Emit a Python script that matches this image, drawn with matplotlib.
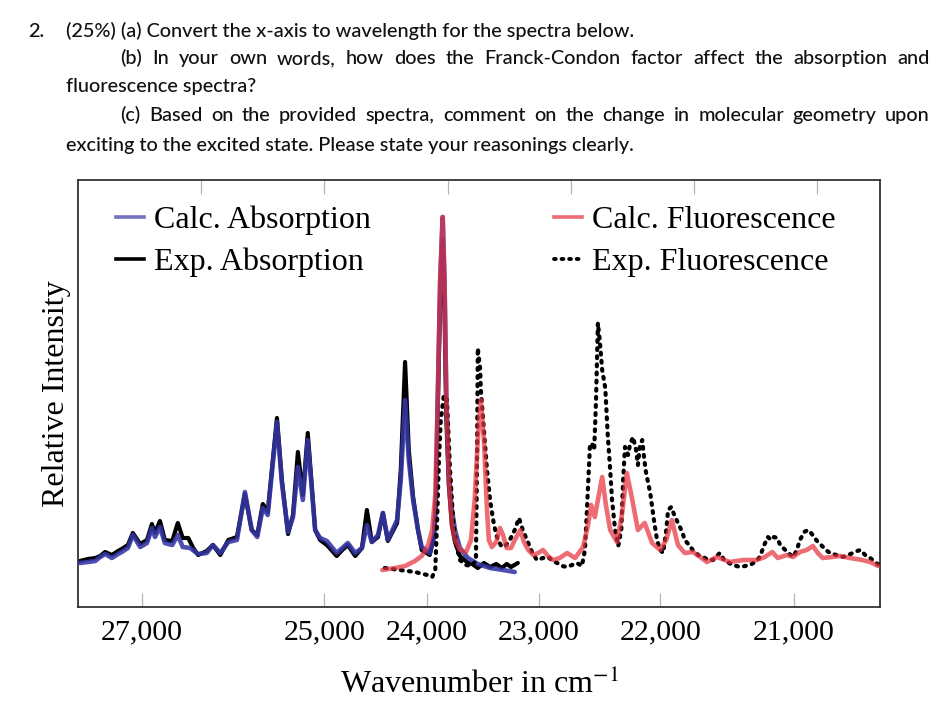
import matplotlib
matplotlib.use("Agg")
import matplotlib.pyplot as plt
from matplotlib.lines import Line2D

W, H = 950, 714

# ---------------- data (wavelength in nm, relative intensity in arb. units) -------------
calc_abs_nm = [360.3, 361.6, 362.8, 363.6, 364.4, 365.5, 366.5, 367.1, 368.1, 368.9, 370.1, 371.2,
               372.0, 372.5, 373.3, 374.1, 375.3, 376.2, 377.0, 378.2, 379.5, 380.9, 381.9, 383.1,
               384.4, 385.8, 387.1, 388.2, 389.1, 390.0, 390.8, 392.3, 393.1, 394.1, 394.9, 395.7,
               396.5, 397.3, 398.5, 399.3, 400.4, 402.0, 402.9, 403.8, 405.0, 406.1, 406.9, 407.7,
               408.7, 409.5, 410.3, 411.8, 412.4, 413.1, 413.7, 414.4, 415.2, 415.8, 417.1, 417.8,
               418.1, 418.4, 418.8, 419.2, 419.5, 419.8, 420.2, 420.6, 421.2, 422.0, 423.3, 424.9,
               426.9, 429.0, 430.9]
calc_abs_int = [7, 8, 9, 13, 16, 12, 16, 18, 22, 35, 23, 27,
                42, 33, 43, 27, 25, 35, 23, 22, 16, 17, 25, 17,
                28, 30, 78, 40, 33, 62, 55, 148, 87, 38, 53, 103,
                70, 130, 40, 32, 29, 17, 22, 27, 17, 22, 45, 28,
                35, 57, 30, 50, 90, 170, 110, 70, 40, 23, 17, 35,
                70, 170, 290, 353, 290, 170, 100, 65, 40, 22, 12, 6,
                2, 0, -2]

exp_abs_nm = [360.3, 361.6, 362.8, 363.6, 364.4, 365.5, 366.5, 367.1, 368.1, 368.9, 370.1, 371.2,
              372.0, 372.5, 373.3, 374.1, 375.3, 376.2, 377.0, 377.9, 378.7, 379.5, 380.9, 381.9,
              383.1, 384.4, 385.8, 387.1, 388.2, 389.1, 390.0, 390.8, 392.3, 393.1, 394.1, 394.9,
              395.7, 396.5, 397.3, 398.5, 399.3, 400.4, 402.0, 402.9, 403.8, 405.0, 406.1, 406.9,
              407.7, 408.7, 409.5, 410.3, 411.8, 412.4, 413.1, 413.7, 414.4, 415.2, 415.8, 417.1,
              417.8, 418.1, 418.4, 418.8, 419.2, 419.5, 419.8, 420.2, 420.7, 421.2, 422.0, 423.3,
              424.0, 424.9, 425.9, 426.9, 427.9, 428.8, 429.6, 430.3, 431.4]
exp_abs_int = [9, 11, 12, 14, 18, 15, 19, 21, 25, 37, 26, 30,
               46, 37, 49, 30, 29, 47, 32, 32, 22, 15, 19, 25,
               15, 30, 33, 76, 40, 35, 66, 58, 152, 90, 36, 55,
               118, 75, 137, 40, 30, 25, 14, 20, 25, 14, 22, 60,
               28, 33, 57, 29, 47, 100, 208, 120, 73, 40, 20, 15,
               33, 68, 160, 270, 330, 260, 150, 85, 45, 28, 14, 7,
               6, 2, 7, 3, 6, 2, 6, 3, 7]

calc_fl_nm = [409.4, 411.5, 413.1, 414.7, 415.8, 416.8, 417.5, 418.0, 418.4, 418.8, 419.2, 419.5,
              419.8, 420.2, 420.7, 421.2, 422.0, 423.0, 423.8, 424.4, 424.9, 425.4, 425.9, 426.4,
              426.7, 427.2, 427.9, 428.5, 429.0, 429.6, 430.3, 430.9, 431.8, 432.4, 433.1, 433.9,
              434.7, 435.5, 436.3, 437.1, 438.2, 439.4, 440.7, 442.0, 442.8, 443.3, 443.9, 444.4,
              445.1, 445.7, 446.4, 447.5, 448.3, 449.1, 449.9, 450.9, 452.0, 453.2, 454.5, 455.5,
              456.4, 457.4, 458.5, 459.8, 461.0, 462.1, 463.7, 465.8, 468.0, 470.2, 471.5, 472.7,
              473.6, 475.1, 476.1, 477.2, 478.3, 479.3, 480.1, 480.9, 482.4, 483.7, 485.3, 487.3,
              488.6, 489.9]
calc_fl_int = [0, 2, 4, 9, 14, 24, 40, 75, 170, 290, 353, 290,
               170, 90, 45, 30, 20, 18, 30, 70, 130, 170, 130, 60,
               30, 23, 28, 42, 35, 22, 22, 30, 40, 28, 20, 15,
               17, 20, 14, 10, 12, 17, 12, 23, 45, 65, 53, 70,
               93, 65, 40, 28, 55, 97, 73, 40, 47, 27, 20, 30,
               50, 25, 17, 18, 13, 8, 13, 8, 10, 10, 13, 18,
               12, 15, 13, 18, 20, 24, 17, 12, 13, 14, 12, 10,
               8, 4]

exp_fl_nm = [409.8, 412.3, 414.7, 416.7, 417.5, 418.0, 418.3, 418.6, 418.9, 419.4, 419.9, 420.4,
             420.9, 421.4, 422.0, 423.0, 424.0, 424.6, 424.8, 424.9, 425.3, 425.4, 425.9, 426.4,
             426.9, 427.4, 427.9, 428.2, 428.8, 429.5, 430.1, 430.9, 431.6, 432.2, 432.9, 433.7,
             434.5, 435.5, 436.3, 437.1, 437.8, 438.6, 439.4, 440.2, 441.0, 441.8, 442.3, 442.6,
             443.1, 443.4, 443.8, 444.1, 444.4, 444.7, 445.1, 445.6, 446.0, 446.4, 446.7, 447.2,
             447.7, 448.2, 448.5, 448.8, 449.3, 449.6, 450.1, 450.6, 450.9, 451.2, 451.6, 451.9,
             452.2, 452.9, 453.5, 454.0, 454.5, 455.0, 455.5, 455.8, 456.3, 456.8, 457.4, 458.1,
             458.5, 459.2, 459.8, 460.7, 461.5, 462.3, 463.1, 463.7, 464.2, 464.9, 465.4, 466.3,
             467.5, 468.3, 469.1, 469.9, 470.7, 471.4, 472.0, 472.5, 473.0, 473.5, 474.0, 474.5,
             475.3, 476.1, 476.7, 477.2, 477.9, 478.5, 479.0, 479.5, 480.1, 480.8, 481.4, 482.1,
             483.1, 484.2, 485.0, 485.8, 486.5, 487.0, 487.8, 488.6, 489.4, 490.0]
exp_fl_int = [2, 0, -2, -5, -7, 0, 50, 110, 150, 175, 170, 100,
              50, 25, 10, 5, 4, 10, 120, 222, 200, 180, 140, 100,
              70, 50, 35, 30, 23, 25, 30, 40, 52, 40, 30, 18,
              10, 12, 13, 9, 7, 4, 3, 5, 7, 4, 20, 57,
              123, 127, 120, 170, 247, 230, 200, 182, 135, 100, 70, 40,
              24, 40, 90, 123, 115, 125, 133, 120, 105, 123, 130, 112,
              98, 77, 50, 30, 20, 17, 40, 60, 63, 55, 47, 38,
              30, 25, 20, 15, 13, 10, 10, 14, 17, 10, 8, 5,
              3, 4, 5, 8, 13, 25, 33, 30, 33, 32, 25, 22,
              17, 13, 20, 30, 38, 40, 37, 33, 28, 24, 20, 17,
              15, 13, 15, 17, 19, 20, 15, 12, 8, 5]

tick_wavenumbers = [27000, 25000, 24000, 23000, 22000, 21000]
tick_labels = ["27,000", "25,000", "24,000", "23,000", "22,000", "21,000"]
top_ticks_nm = [380, 400, 420, 440, 460, 480]

legend_labels = ["Calc. Absorption", "Exp. Absorption", "Calc. Fluorescence", "Exp. Fluorescence"]

question_lines = [
    "(25%) (a) Convert the x-axis to wavelength for the spectra below.",
    "(b) In your own words, how does the Franck-Condon factor affect the absorption and",
    "fluorescence spectra?",
    "(c) Based on the provided spectra, comment on the change in molecular geometry upon",
    "exciting to the excited state. Please state your reasonings clearly.",
]

# ---------------- figure ----------------
plt.rcParams["mathtext.fontset"] = "stix"
SERIF = ["Liberation Serif", "DejaVu Serif"]
SANS = ["Lato", "Open Sans", "DejaVu Sans"]

fig = plt.figure(figsize=(W / 100, H / 100), dpi=100)
fig.patch.set_facecolor("white")

ax = fig.add_axes([78 / W, 1 - 607 / H, (880 - 78) / W, (607 - 180) / H])

BLUE = "#3436a6"
RED = "#e8333f"
LW = 3.3
DOTS = (0, (0.45, 1.5))

ax.plot(exp_abs_nm, exp_abs_int, color="black", lw=LW - 0.3, solid_joinstyle="round",
        solid_capstyle="round", zorder=2)
ax.plot(calc_abs_nm, calc_abs_int, color=BLUE, lw=LW, alpha=0.88, solid_joinstyle="round",
        solid_capstyle="round", zorder=3)
ax.plot(exp_fl_nm, exp_fl_int, color="black", lw=3.0, linestyle=DOTS,
        dash_capstyle="round", zorder=4)
ax.plot(calc_fl_nm, calc_fl_int, color=RED, lw=LW, alpha=0.72, solid_joinstyle="round",
        solid_capstyle="round", zorder=5)

ax.set_xlim(360, 490.2)
ax.set_ylim(-37, 390)

ax.set_xticks([1e7 / w for w in tick_wavenumbers])
ax.set_xticklabels(tick_labels, fontfamily=SERIF, fontsize=21.5)
ax.set_yticks([])
ax.tick_params(axis="x", direction="in", length=10, width=0.9, color="#b5b5b5", pad=9)

sec = ax.secondary_xaxis("top")
sec.set_xticks(top_ticks_nm)
sec.set_xticklabels([])
sec.tick_params(direction="in", length=10, width=0.9, color="#b5b5b5")
for s in sec.spines.values():
    s.set_visible(False)

for s in ax.spines.values():
    s.set_color("#333333")
    s.set_linewidth(1.3)

ax.set_xlabel(r"Wavenumber in cm$^{-1}$", fontfamily=SERIF, fontsize=23, labelpad=17)
ax.set_ylabel("Relative Intensity", fontfamily=SERIF, fontsize=23, labelpad=5)

h1 = Line2D([], [], color=BLUE, lw=2.6, alpha=0.7)
h2 = Line2D([], [], color="black", lw=2.6)
h3 = Line2D([], [], color=RED, lw=2.6, alpha=0.72)
h4 = Line2D([], [], color="black", lw=2.8, linestyle=DOTS, dash_capstyle="round")

leg_kw = dict(loc="upper left", frameon=False, prop={"family": SERIF, "size": 23},
              handlelength=0.9, handletextpad=0.3, labelspacing=0.4,
              borderpad=0, borderaxespad=0)
leg1 = ax.legend([h1, h2], legend_labels[:2], bbox_to_anchor=(0.047, 0.94), **leg_kw)
ax.add_artist(leg1)
ax.legend([h3, h4], legend_labels[2:], bbox_to_anchor=(0.593, 0.94), **leg_kw)

# ---------------- question text ----------------
renderer = fig.canvas.get_renderer()
QW = "medium"
probe = fig.text(0, 0, question_lines[0], family=SANS, fontsize=10, fontweight=QW)
w10 = probe.get_window_extent(renderer).width
probe.remove()
qsize = 10 * (636 - 66) / w10

def put(txt, x, ybase):
    return fig.text(x / W, 1 - ybase / H, txt, family=SANS, fontsize=qsize, fontweight=QW,
                    va="baseline", ha="left", color="#111111")

def put_justified(txt, x0, x1, ybase):
    words = txt.split(" ")
    objs = [put(wd, 0, ybase) for wd in words]
    widths = [o.get_window_extent(renderer).width for o in objs]
    gap = (x1 - x0 - sum(widths)) / (len(words) - 1)
    x = x0
    for o, wd in zip(objs, widths):
        o.set_x(x / W)
        x += wd + gap

baselines = [37, 64, 92, 121, 151]
put("2.", 28, baselines[0])
put(question_lines[0], 66, baselines[0])
put_justified(question_lines[1], 120, 930, baselines[1])
put(question_lines[2], 66, baselines[2])
put_justified(question_lines[3], 120, 930, baselines[3])
put(question_lines[4], 66, baselines[4])

fig.savefig("out.png", dpi=100)
